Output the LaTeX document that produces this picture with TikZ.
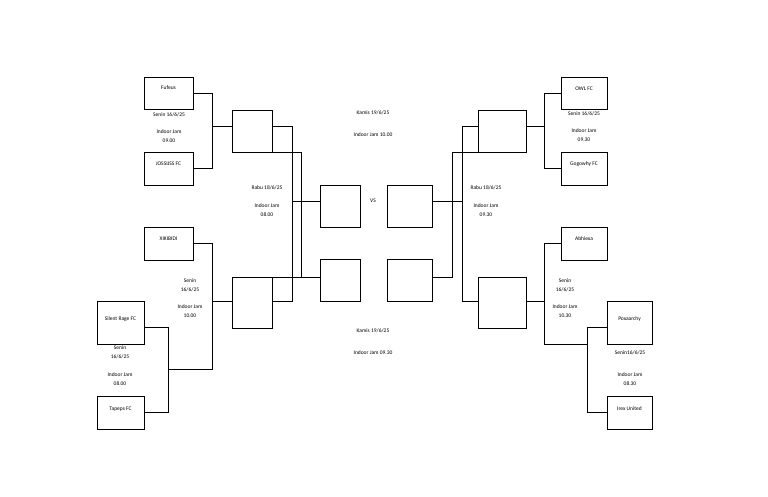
\documentclass[tikz,border=0pt]{standalone}
\usepackage{fontspec}
\setmainfont{Carlito}
\begin{document}
\begin{tikzpicture}[x=1pt,y=-1pt,
  bx/.style={draw,line width=0.8pt},
  ln/.style={line width=0.8pt},
  t/.style={font=\fontsize{5.5}{6}\selectfont,inner sep=0pt,align=center}]
\useasboundingbox (0,0) rectangle (768,497);
% left boxes
\draw[bx] (144,77) rectangle (193,109) node[t] (fuf) at (168.5,88) {Fufeus};
\draw[bx] (144,152) rectangle (193,185) node[t] (jos) at (168.5,164) {JOSSIJSS FC};
\draw[bx] (144,227) rectangle (193,260) node[t] (xik) at (168.5,239) {XIKIBIDI};
\draw[bx] (97,301) rectangle (144,344) node[t] (sil) at (120.5,319) {Silent Rage FC};
\draw[bx] (97,396) rectangle (144,429) node[t] (tap) at (120.5,409) {Tapeps FC};
\draw[bx] (232,110) rectangle (272,152);
\draw[bx] (232,277) rectangle (272,328);
\draw[bx] (320,185) rectangle (360,227);
\draw[bx] (320,259) rectangle (360,301);
% right boxes
\draw[bx] (561,77) rectangle (607,109) node[t] (owl) at (584,89) {OWL FC};
\draw[bx] (561,152) rectangle (607,185) node[t] (gog) at (584,164) {Gogowhy FC};
\draw[bx] (561,227) rectangle (607,260) node[t] (abh) at (584,239) {Abhiexa};
\draw[bx] (607,301) rectangle (652,344) node[t] (pox) at (629.5,319) {Poxaarchy};
\draw[bx] (607,396) rectangle (652,429) node[t] (irx) at (629.5,409) {Irex United};
\draw[bx] (478,110) rectangle (526,152);
\draw[bx] (478,277) rectangle (526,328);
\draw[bx] (387,185) rectangle (432,227);
\draw[bx] (387,259) rectangle (432,301);
% left connectors
\draw[ln] (193,93) -- (212,93) -- (212,168) -- (193,168);
\draw[ln] (212,126) -- (232,126);
\draw[ln] (144,327) -- (168,327) -- (168,412) -- (144,412);
\draw[ln] (168,369) -- (212,369) -- (212,243) -- (193,243);
\draw[ln] (212,301) -- (232,301);
\draw[ln] (272,126) -- (292,126) -- (292,301) -- (272,301);
\draw[ln] (272,152) -- (301,152) -- (301,277) -- (272,277);
\draw[ln] (292,201) -- (320,201);
\draw[ln] (301,277) -- (320,277);
% right connectors
\draw[ln] (561,93) -- (544,93) -- (544,168) -- (561,168);
\draw[ln] (526,126) -- (544,126);
\draw[ln] (561,243) -- (544,243) -- (544,344) -- (587,344);
\draw[ln] (526,301) -- (544,301);
\draw[ln] (607,327) -- (587,327) -- (587,412) -- (607,412);
\draw[ln] (478,126) -- (462,126) -- (462,301) -- (478,301);
\draw[ln] (478,152) -- (452,152) -- (452,277) -- (432,277);
\draw[ln] (462,201) -- (432,201);
% labels
\node[t] (l1) at (169,115) {Senin 16/6/25};
\node[t] (l2) at (169,136) {Indoor Jam\\[3pt]09.00};
\node[t] (l3) at (267,188) {Rabu 18/6/25};
\node[t] (l4) at (267,210) {Indoor Jam\\[3pt]08.00};
\node[t] (l5) at (190,285) {Senin\\[3pt]16/6/25};
\node[t] (l6) at (190,311) {Indoor Jam\\[3pt]10.00};
\node[t] (l7) at (120,352) {Senin\\[3pt]16/6/25};
\node[t] (l8) at (120,379) {Indoor Jam\\[3pt]08.00};
\node[t] (k1) at (373,113) {Kamis 19/6/25};
\node[t] (k2) at (373,135) {Indoor Jam 10.00};
\node[t] (vs) at (373,201) {VS};
\node[t] (k3) at (373,331) {Kamis 19/6/25};
\node[t] (k4) at (373,353) {Indoor Jam 09.30};
\node[t] (r1) at (486,188) {Rabu 18/6/25};
\node[t] (r2) at (486,210) {Indoor Jam\\[3pt]09.30};
\node[t] (r3) at (584,114) {Senin 16/6/25};
\node[t] (r4) at (584,135) {Indoor Jam\\[3pt]09.30};
\node[t] (r5) at (565,285) {Senin\\[3pt]16/6/25};
\node[t] (r6) at (565,311) {Indoor Jam\\[3pt]10.30};
\node[t] (r7) at (630,353) {Senin16/6/25};
\node[t] (r8) at (630,379) {Indoor Jam\\[3pt]08.30};
\end{tikzpicture}
\end{document}
